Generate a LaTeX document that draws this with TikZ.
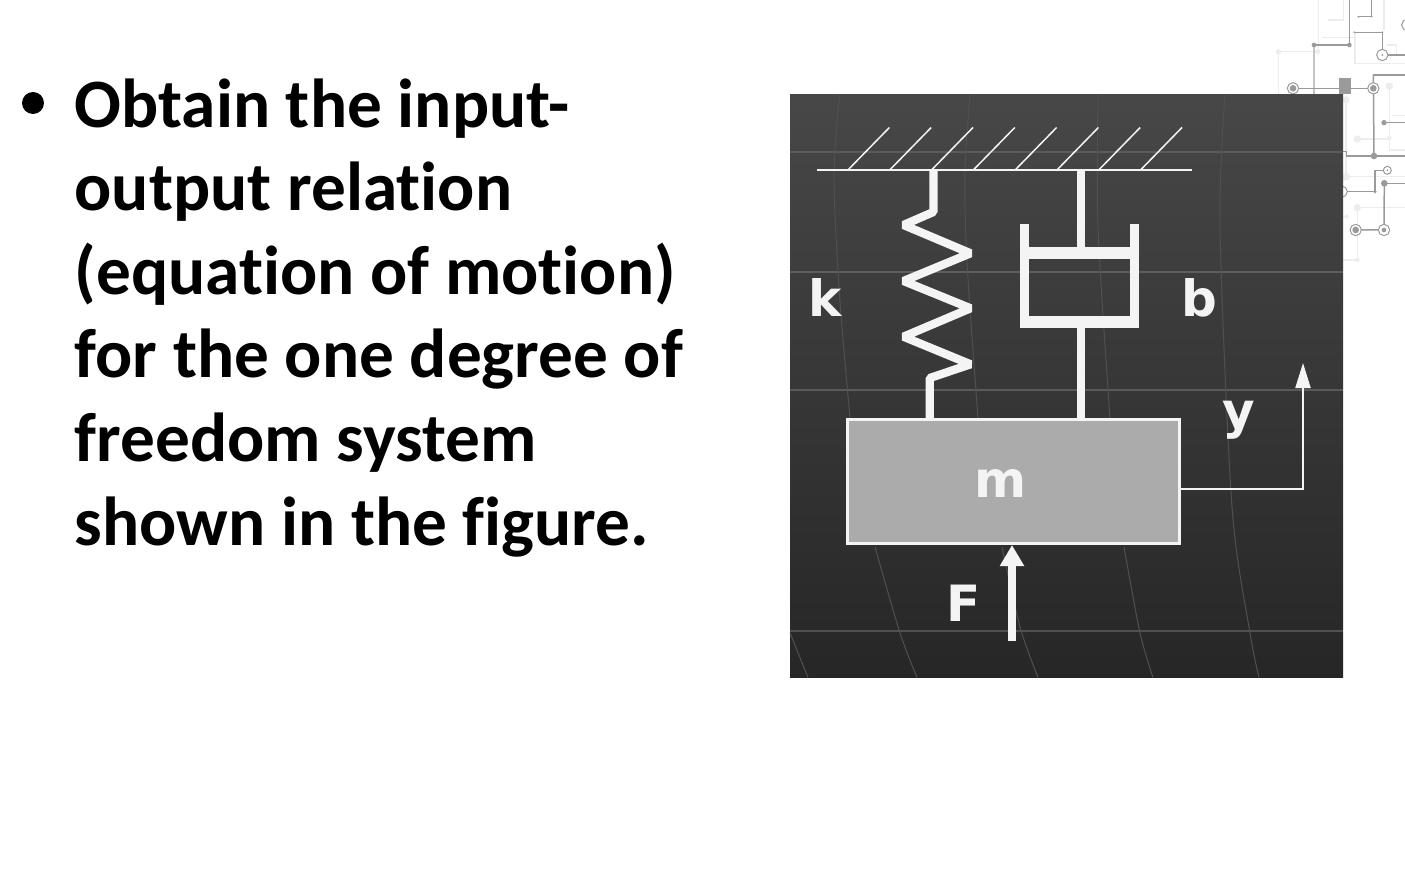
\documentclass[tikz,border=0pt]{standalone}
\usepackage{fontspec}
\setmainfont[Ligatures=NoCommon]{Carlito}
\newfontfamily\labelfont{DejaVu Sans}
\usetikzlibrary{arrows.meta}
\definecolor{cirdark}{HTML}{9A9A9A}
\definecolor{cirlight}{HTML}{EDEDED}
\definecolor{cirmid}{HTML}{C4C4C4}
\definecolor{figwhite}{HTML}{F4F4F4}
\definecolor{gridh}{HTML}{5E5E5E}
\definecolor{gridv}{HTML}{505050}
\tikzset{
  x=1pt,y=-1pt,
  bodytext/.style={font=\fontsize{69.3}{83.6}\selectfont\bfseries,anchor=base west,align=left,inner sep=0pt,text=black},
  figlabel/.style={font=\fontsize{50}{60}\labelfont\bfseries,text=figwhite,inner sep=0pt},
  hatchline/.style={figwhite,line width=1.7pt},
  thick bar/.style={figwhite,line width=8.3pt},
  cdark/.style={cirdark,line width=1.5pt},
  cmid/.style={cirmid,line width=1.5pt},
  clight/.style={cirlight,line width=1.3pt},
  gridhl/.style={gridh,line width=1.6pt},
  gridvl/.style={gridv,line width=1pt},
}
\begin{document}
\begin{tikzpicture}
\useasboundingbox (0,0) rectangle (1405,882);
\clip (0,0) rectangle (1405,882);
\fill[white] (0,0) rectangle (1405,882);

% circuit decoration, top right (coordinates in 1/3 px from 1260,0)
\begin{scope}[shift={(1260,0)},x=0.3333pt,y=-0.3333pt]
  % light traces
  \draw[clight] (55,285)--(55,155)--(173,155);
  \draw[clight] (175,0)--(175,155);
  \draw[clight] (205,60)--(250,60)--(250,0);
  \draw[clight] (190,112)--(285,112);
  \draw[clight] (285,100)--(285,190)--(435,190);
  \draw[clight] (372,0)--(372,90);
  \draw[clight] (380,135)--(410,135)--(410,165);
  \draw[clight] (388,258)--(388,450)--(435,450);
  \draw[clight] (292,417)--(388,417);
  \draw[clight] (400,347)--(435,347);
  \draw[clight] (250,530)--(435,530);
  \draw[clight] (292,623)--(435,623);
  \draw[clight] (292,623)--(292,780)--(250,780);
  \draw[clight] (250,650)--(260,650);
  \draw[clight] (258,300)--(258,530);
  \foreach \px/\py/\pr in {55/155/8,173/155/8,388/258/11,292/417/11,388/414/7,258/300/11,258/530/12,292/623/11,292/780/7,260/650/6,205/60/3,190/112/3,285/190/3,400/347/3}
    \fill[cirlight] (\px,\py) circle[radius=\pr];
  % darker traces
  \draw[cmid] (162,285)--(162,135);
  \draw[cdark] (162,135)--(268,135)--(268,0);
  \draw[cdark] (295,50)--(335,50)--(335,0);
  \draw[cdark] (283,97)--(367,97)--(367,165)--(435,165);
  \draw[cdark] (99,265)--(340,265);
  \draw[cdark] (340,225)--(435,225);
  \draw[cdark] (340,225)--(342,468);
  \draw[cdark] (248,455)--(260,455)--(260,468)--(435,468);
  \draw[cdark] (372,368)--(435,368);
  \draw[cdark] (382,511)--(345,511)--(345,575)--(250,575);
  \draw[cdark] (373,550)--(435,550);
  \draw[cdark] (373,550)--(372,690)--(287,690);
  \foreach \px/\py/\pr in {162/135/7,268/135/7,295/50/3,335/50/3,283/97/3,367/97/3,342/468/10,372/368/8,345/575/5,373/550/10}
    \fill[cirdark] (\px,\py) circle[radius=\pr];
  \fill[cirdark] (237,233) rectangle (272,282);
  \draw[cirdark,line width=1pt,fill=white] (367,165) circle[radius=17];
  \fill[cirdark] (367,165) circle[radius=3];
  \draw[cirdark,line width=1pt,fill=white] (442,75) circle[radius=17];
  \draw[cirdark,line width=1pt,fill=white] (245,575) circle[radius=17];
  \draw[cirdark,line width=1pt,fill=white] (382,511) circle[radius=12];
  \fill[cirdark] (382,511) circle[radius=3];
  \draw[cirdark,line width=1pt,fill=white] (99,265) circle[radius=17];
  \fill[cirdark] (99,265) circle[radius=10];
  \draw[cirdark,line width=1pt,fill=white] (340,265) circle[radius=17];
  \fill[cirdark] (340,265) circle[radius=10];
  \draw[cirdark,line width=1pt,fill=white] (287,690) circle[radius=17];
  \fill[cirdark] (287,690) circle[radius=10];
  \draw[cirdark,line width=1pt,fill=white] (372,690) circle[radius=17];
  \fill[cirdark] (372,690) circle[radius=7];
\end{scope}

% bullet text
\fill[black] (33,103) circle[radius=11];
\node[bodytext] (question) at (74.5,545) {Obtain the input-\\output relation\\(equation of motion)\\for the one degree of\\freedom system\\shown in the figure.};

% dark panel
\shade[top color=black!72,bottom color=black!85,shading angle=0] (790,95) rectangle (1343,677.5);
% faint grid
\draw[gridhl,opacity=.9] (790,152)--(1343,152);
\draw[gridhl] (790,272)--(1343,272);
\draw[gridhl,opacity=.9] (790,390)--(1343,390);
\draw[gridvl,line width=1.3pt] (790,631)--(1343,631);
\draw[gridvl] plot[smooth] coordinates {(839.5,95)(834,178)(839.5,295)(850,418)};
\draw[gridvl] plot[smooth] coordinates {(970,95)(965,172)(967,262)(978,418)};
\draw[gridvl] plot[smooth] coordinates {(1098,95)(1098,228)(1110,418)};
\draw[gridvl] plot[smooth] coordinates {(1225,95)(1220,228)(1232,507)(1250,633)(1259,677.5)};
\draw[gridvl] plot[smooth] coordinates {(875,547)(900,633)(917,677.5)};
\draw[gridvl] plot[smooth] coordinates {(1002,547)(1020,627)(1038,677.5)};
\draw[gridvl] plot[smooth] coordinates {(1124,547)(1140,633)(1153,677.5)};
\draw[gridvl] (790,633)--(808,677.5);

% ground
\coordinate (gndL) at (817,170);
\coordinate (gndR) at (1192,170);
\draw[hatchline] (gndL)--(gndR);
\foreach \hx in {848.4,890.2,932,973.8,1015.6,1057.4,1099.2,1141}
  \draw[hatchline,line width=1.5pt] (\hx,169.5)--(\hx+41,127.5);

% mass
\node[draw=figwhite,fill=black!33,line width=3pt,minimum width=332pt,minimum height=123.7pt,inner sep=0pt,outer sep=0pt,anchor=north west] (mass) at (847,419.8) {};
\node[figlabel] (mlabel) at (1000.6,483) {m};

% spring
\coordinate (springTop) at (933.4,170);
\coordinate (springBot) at (929.8,419.8);
\draw[thick bar,line join=bevel] (springTop)--(933.4,212)--(903.5,225)--(970.5,253.3)--(903.5,281)--(970.5,308.3)--(903.5,336.7)--(970.5,364.3)--(929.8,378)--(springBot);

% damper
\coordinate (rodTop) at (1081,170);
\coordinate (rodBot) at (1081,419.8);
\draw[thick bar] (rodTop)--(1081,253);
\draw[thick bar,line width=12pt] (1028,253)--(1130,253);
\draw[thick bar,line width=9pt,line join=miter] (1024,224)--(1024,322)--(1134.5,322)--(1134.5,224);
\draw[thick bar,line width=12pt] (1019.5,322)--(1139,322);
\draw[thick bar] (1081,322)--(rodBot);

% y indicator
\coordinate (yTip) at (1303,363);
\coordinate (yOut) at (1179,489);
\draw[figwhite,line width=2.2pt,-{Triangle[length=25pt,width=15pt]}] (yOut) -- (1303,489) -- (yTip);

% force
\coordinate (fTail) at (1012,641);
\coordinate (fHead) at (1012,545);
\draw[figwhite,line width=8.5pt,-{Triangle[length=21pt,width=23pt]}] (fTail) -- (fHead);

% labels
\node[figlabel] (klabel) at (825,298) {k};
\node[figlabel] (blabel) at (1199.6,298) {b};
\node[figlabel] (ylabel) at (1238.5,420) {y};
\node[figlabel] (flabel) at (963.5,603) {F};
\end{tikzpicture}
\end{document}
